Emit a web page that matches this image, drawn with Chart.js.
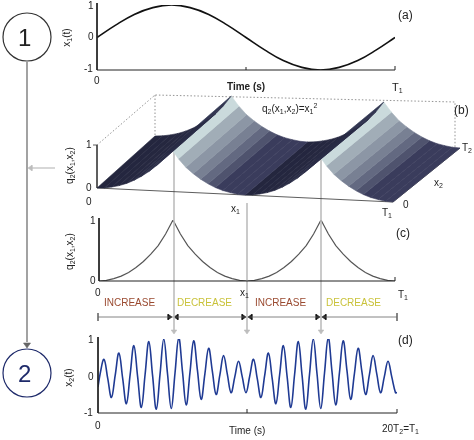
<!DOCTYPE html>
<html><head><meta charset="utf-8">
<script src="https://cdn.jsdelivr.net/npm/chart.js@4.4.0/dist/chart.umd.min.js"></script>
<style>
body{margin:0;width:474px;height:440px;background:#fff;position:relative;overflow:hidden;font-family:"Liberation Sans",Arial,sans-serif;}
.p{position:absolute}
.t{position:absolute;font-size:10px;color:#222;white-space:nowrap;line-height:1}
sub{font-size:7px;vertical-align:-2px}
sup{font-size:7px;vertical-align:4px}
.rot{transform:rotate(-90deg);transform-origin:center}
</style></head><body>
<div class="p" style="left:97px;top:5px;width:298px;height:65px"><canvas id="ca"></canvas></div>
<div class="p" style="left:99px;top:220px;width:296px;height:61px"><canvas id="cc"></canvas></div>
<div class="p" style="left:98px;top:339px;width:299px;height:74px"><canvas id="cd"></canvas></div>
<div class="p" style="left:0;top:0;width:474px;height:440px;pointer-events:none"><canvas id="ov"></canvas></div>

<div class="t" style="left:88px;top:1px">1</div>
<div class="t" style="left:88px;top:32px">0</div>
<div class="t" style="left:84px;top:64px">-1</div>
<div class="t" style="left:94px;top:76px">0</div>
<div class="t" style="left:227px;top:82px;font-weight:bold">Time (s)</div>
<div class="t" style="left:392px;top:82px;font-size:11px">T<sub>1</sub></div>
<div class="t" style="left:398px;top:9px;font-size:12px">(a)</div>
<div class="t rot" style="left:58px;top:32px">x<sub>1</sub>(t)</div>

<div class="t" style="left:262px;top:102px">q<sub>2</sub>(x<sub>1</sub>,x<sub>2</sub>)=x<sub>1</sub><sup>2</sup></div>
<div class="t" style="left:454px;top:104px;font-size:12px">(b)</div>
<div class="t" style="left:86px;top:140px">1</div>
<div class="t" style="left:86px;top:183px">0</div>
<div class="t" style="left:86px;top:197px">0</div>
<div class="t" style="left:231px;top:204px">x<sub>1</sub></div>
<div class="t" style="left:382px;top:208px">T<sub>1</sub></div>
<div class="t" style="left:403px;top:200px">0</div>
<div class="t" style="left:434px;top:178px">x<sub>2</sub></div>
<div class="t" style="left:462px;top:143px">T<sub>2</sub></div>
<div class="t rot" style="left:52px;top:160px">q<sub>2</sub>(x<sub>1</sub>,x<sub>2</sub>)</div>

<div class="t" style="left:90px;top:216px">1</div>
<div class="t" style="left:90px;top:276px">0</div>
<div class="t" style="left:95px;top:288px">0</div>
<div class="t" style="left:240px;top:288px">x<sub>1</sub></div>
<div class="t" style="left:398px;top:290px">T<sub>1</sub></div>
<div class="t" style="left:396px;top:227px;font-size:12px">(c)</div>
<div class="t rot" style="left:52px;top:246px">q<sub>2</sub>(x<sub>1</sub>,x<sub>2</sub>)</div>

<div class="t" style="left:104px;top:298px;color:#9a4a30">INCREASE</div>
<div class="t" style="left:177px;top:298px;color:#c9c23a">DECREASE</div>
<div class="t" style="left:255px;top:298px;color:#9a4a30">INCREASE</div>
<div class="t" style="left:326px;top:298px;color:#c9c23a">DECREASE</div>

<div class="t" style="left:88px;top:335px">1</div>
<div class="t" style="left:88px;top:372px">0</div>
<div class="t" style="left:84px;top:408px">-1</div>
<div class="t" style="left:95px;top:421px">0</div>
<div class="t" style="left:229px;top:426px">Time (s)</div>
<div class="t" style="left:382px;top:424px">20T<sub>2</sub>=T<sub>1</sub></div>
<div class="t" style="left:398px;top:334px;font-size:12px">(d)</div>
<div class="t rot" style="left:60px;top:372px">x<sub>2</sub>(t)</div>

<div class="t" style="left:18px;top:26px;font-size:24px">1</div>
<div class="t" style="left:18px;top:362px;font-size:24px;color:#1e2a6a">2</div>

<script>
// ---- data ----
const x1Values=[0,0.38,0.71,0.92,1,0.92,0.71,0.38,0,-0.38,-0.71,-0.92,-1,-0.92,-0.71,-0.38,0];
const qProfile=[0,0.01,0.04,0.08,0.14,0.22,0.32,0.44,0.58,0.77,1,0.77,0.58,0.44,0.32,0.22,0.14,0.08,0.04,0.01,0,
                0.01,0.04,0.08,0.14,0.22,0.32,0.44,0.58,0.77,1,0.77,0.58,0.44,0.32,0.22,0.14,0.08,0.04,0.01,0];
const x2Peaks=[0.45,0.62,0.82,0.93,1.0,1.03,0.95,0.75,0.55,0.40,0.45,0.62,0.82,0.93,1.0,1.03,0.95,0.75,0.55,0.40];
const x2Troughs=[-0.58,-0.75,-0.85,-0.9,-0.88,-0.78,-0.63,-0.5,-0.45,-0.45,-0.58,-0.75,-0.85,-0.9,-0.88,-0.78,-0.63,-0.5,-0.45,-0.45];
const x2Start=-0.3, x2End=-0.45;

const base={responsive:true,maintainAspectRatio:false,animation:false,events:[],
  plugins:{legend:{display:false},tooltip:{enabled:false}},layout:{padding:0}};
function lineChart(id,pts,ymin,ymax,xmax,color,w,tension){
  new Chart(document.getElementById(id),{type:'scatter',
    data:{datasets:[{data:pts,showLine:true,borderColor:color,borderWidth:w,pointRadius:0,tension:tension,clip:false}]},
    options:Object.assign({},base,{scales:{x:{type:'linear',min:0,max:xmax,display:false},y:{min:ymin,max:ymax,display:false}}})});
}
lineChart('ca',x1Values.map((v,i)=>({x:i,y:v})),-1,1,x1Values.length-1,'#111',1.6,0.4);
lineChart('cc',qProfile.map((v,i)=>({x:i,y:v})),0,1,qProfile.length-1,'#555',1.2,0);
const dPts=[{x:0,y:x2Start}];
for(let k=0;k<20;k++){
  dPts.push({x:k+0.15,y:(x2Start+x2Peaks[k])/2*0+((k?x2Troughs[k-1]:x2Start)+x2Peaks[k])/2});
  dPts.push({x:k+0.4,y:x2Peaks[k]});
  dPts.push({x:k+0.65,y:(x2Peaks[k]+x2Troughs[k])/2});
  dPts.push({x:k+0.9,y:x2Troughs[k]});
}
dPts.push({x:20,y:x2End});
lineChart('cd',dPts,-1,1,20,'#1f3a93',1.6,0.4);

// ---- overlay: 3D surface, axes, arrows ----
const ds=[];
function seg(pts,color,w,dash){ds.push({data:pts,showLine:true,borderColor:color,borderWidth:w||1,borderDash:dash||[],pointRadius:0,fill:false,tension:0});}
function poly(pts,color){ds.push({data:pts.concat([pts[0]]),showLine:true,borderColor:color,backgroundColor:color,borderWidth:0.6,pointRadius:0,fill:'shape',tension:0});}
function P(x,y){return {x:x,y:y};}
function head(x,y,dir,color,s){s=s||4;
  const m={d:[[-s*0.7,-s],[s*0.7,-s]],l:[[s,-s*0.7],[s,s*0.7]],r:[[-s,-s*0.7],[-s,s*0.7]]}[dir];
  poly([P(x,y),P(x+m[0][0],y+m[0][1]),P(x+m[1][0],y+m[1][1])],color);}
function mix(a,b,t){return 'rgb('+a.map((v,i)=>Math.round(v+(b[i]-v)*t)).join(',')+')';}

// surface (b)
const n=qProfile.length-1;
function front(i,q){const t=i/n;return P(97+t*296,188+t*14-q*43);}
function depth(i){const t=i/n;return [58+9*t,-52-2*t];}
function back(i,q){const f=front(i,q),d=depth(i);return P(f.x+d[0],f.y+d[1]);}
// box dotted lines (behind)
seg([P(97,145),P(155,95),P(455,102),P(455,148)],'#777',0.8,[1.5,2]);
seg([P(155,95),P(155,136)],'#777',0.8,[1.5,2]);
for(let i=0;i<n;i++){
  const q0=qProfile[i],q1=qProfile[i+1];
  const desc=q1<q0;
  const qa=(q0+q1)/2;
  const band=Math.floor(qa*8)/8;
  const c=desc?mix([58,60,92],[222,240,238],band):mix([36,38,62],[52,55,84],qa);
  poly([front(i,q0),front(i+1,q1),back(i+1,q1),back(i,q0)],c);
}
seg([P(97,188),P(393,202),P(460,148)],'#333',0.8);
seg([P(97,145),P(97,188)],'#333',0.8);
seg([P(93,145),P(97,145)],'#333',0.8);
// axes of a, c, d
seg([P(97,3),P(97,70),P(395,70),P(395,66)],'#222',1);
seg([P(246,70),P(246,67)],'#222',1);
seg([P(99,218),P(99,281),P(395,281),P(395,277)],'#222',1);
seg([P(98,337),P(98,413),P(397,413),P(397,409)],'#222',1);
seg([P(247,413),P(247,409)],'#222',1);
// gray vertical arrows
const g='#bdbdbd';
seg([P(174,149),P(174,330)],g,1.6); head(174,334,'d',g,4);
seg([P(247,203),P(247,330)],g,1.6); head(247,334,'d',g,4);
seg([P(321,150),P(321,330)],g,1.6); head(321,334,'d',g,4);
// increase/decrease dimension line
seg([P(98,317),P(397,317)],'#666',0.8);
seg([P(98,313),P(98,321)],'#666',0.8);seg([P(397,313),P(397,321)],'#666',0.8);
[173,247,321].forEach(x=>{head(x-1,317,'r','#111',4);head(x+1,317,'l','#111',4);});
// left flow
seg([P(27,62),P(27,342)],'#666',1.2); head(27,348,'d','#666',5);
seg([P(30,168),P(55,168)],g,1.2); head(28,168,'l',g,4);

new Chart(document.getElementById('ov'),{type:'scatter',data:{datasets:ds},
  options:Object.assign({},base,{scales:{x:{type:'linear',min:0,max:474,display:false},y:{min:0,max:440,reverse:true,display:false}}})});

// circles
const cv=document.createElement('canvas');cv.width=474;cv.height=440;cv.style.cssText='position:absolute;left:0;top:0;pointer-events:none';
document.body.appendChild(cv);const cx=cv.getContext('2d');
cx.lineWidth=1.2;cx.strokeStyle='#333';cx.beginPath();cx.arc(27,37,24,0,7);cx.stroke();
cx.strokeStyle='#1e2a6a';cx.beginPath();cx.arc(27,373,24,0,7);cx.stroke();
</script>
</body></html>
